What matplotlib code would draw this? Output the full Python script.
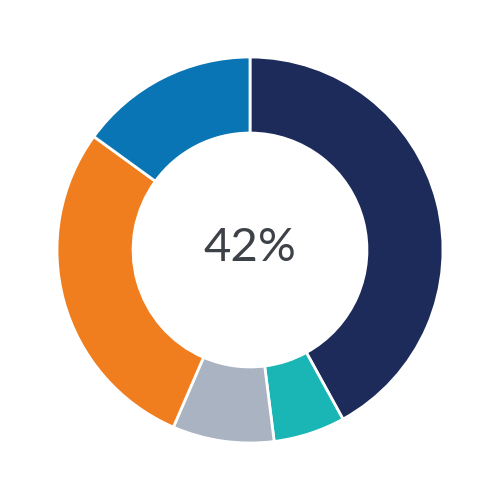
import matplotlib.pyplot as plt

labels = ['A', 'B', 'C', 'D', 'E']
values = [42, 6, 8.5, 28.5, 15]
colors = ['#1c2b5a', '#1ab5b5', '#a9b3c1', '#f07d1e', '#0a75b4']
center_text = '42%'

fig = plt.figure(figsize=(5, 5), dpi=100)
ax = fig.add_axes([0, 0, 1, 1])
ax.pie(
    values,
    colors=colors,
    startangle=90,
    counterclock=False,
    radius=1,
    wedgeprops=dict(width=0.394, edgecolor='white', linewidth=2),
)
ax.text(0, 0.01, center_text, ha='center', va='center', fontsize=34,
        color='#3d4148', family=['Lato', 'DejaVu Sans'])
lim = 250 / 193
ax.set_xlim(-lim, lim)
ax.set_ylim(-lim, lim)
ax.set_aspect('equal')
ax.axis('off')
fig.savefig('out.png', dpi=100, facecolor='white')
